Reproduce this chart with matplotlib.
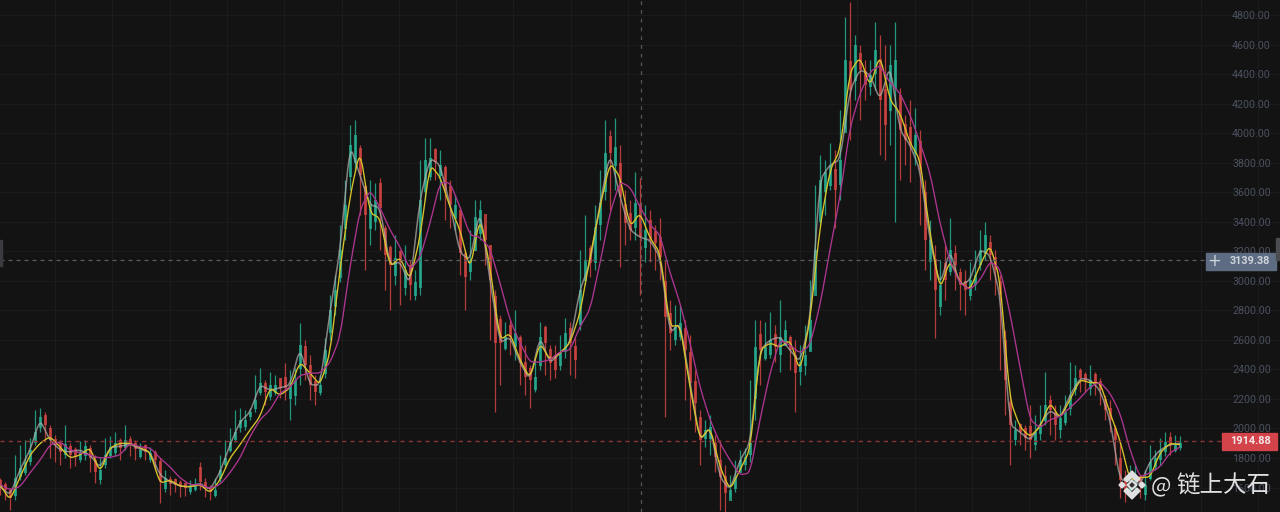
# -*- coding: utf-8 -*-
import numpy as np
import matplotlib
matplotlib.use('Agg')
import matplotlib.pyplot as plt
from matplotlib.patches import Rectangle, Polygon, PathPatch
from matplotlib.path import Path

# one candle every 5 px
opens = [
    1650, 1625, 1585, 1540, 1670, 1700, 1770, 1900, 2000, 2090,
    2000, 1930, 1905, 1820, 1880, 1860, 1785, 1815, 1870, 1790,
    1650, 1750, 1815, 1835, 1920, 1865, 1930, 1900, 1810, 1885,
    1790, 1840, 1780, 1590, 1660, 1655, 1640, 1630, 1570, 1585,
    1740, 1640, 1600, 1545, 1660, 1750, 1850, 1925, 2000, 2010,
    2075, 2130, 2240, 2310, 2210, 2240, 2340, 2350, 2200, 2220,
    2400, 2560, 2430, 2320, 2240, 2370, 2650, 2820, 3020, 3350,
    3700, 3800, 3900, 3640, 3350, 3400, 3660, 3360, 3230, 3030,
    3200, 2950, 3110, 2900, 2950, 3600, 3700, 3890, 3710, 3770,
    3640, 3420, 3480, 3190, 3060, 3200, 3320, 3450, 3240, 2900,
    2740, 2540, 2700, 2550, 2620, 2450, 2410, 2260, 2420, 2690,
    2540, 2500, 2420, 2520, 2680, 2560, 2700, 3000, 3220, 3120,
    3380, 3600, 3980, 3780, 3800, 3520, 3460, 3360, 3520, 3220,
    3410, 3340, 3300, 3000, 2780, 2600, 2620, 2680, 2520, 2320,
    2080, 1930, 1930, 1900, 1790, 1680, 1510, 1590, 1700, 1750,
    1820, 2200, 2640, 2470, 2500, 2640, 2500, 2560, 2620, 2500,
    2380, 2420, 2520, 2900, 3400, 3600, 3640, 3760, 3650, 4000,
    4490, 4350, 4540, 4420, 4310, 4400, 4500, 4300, 4150, 4300,
    4260, 4060, 4040, 3860, 3950, 3600, 3130, 3150, 2820, 3120,
    3060, 3190, 3060, 3000, 2900, 2970, 3110, 3180, 3260, 3160,
    3000, 2600, 2180, 1920, 2030, 2000, 2020, 1890, 1960, 2050,
    2190, 2110, 1990, 2040, 2130, 2260, 2395, 2370, 2270, 2370,
    2320, 2200, 2140, 2000, 1800, 1660, 1580, 1620, 1680, 1550,
    1660, 1740, 1790, 1840, 1940, 1850, 1870,
]
closes = [
    1620, 1585, 1530, 1665, 1735, 1775, 1855, 1975, 2080, 2025,
    1920, 1890, 1840, 1895, 1820, 1805, 1840, 1880, 1800, 1705,
    1720, 1820, 1875, 1900, 1870, 1920, 1890, 1860, 1855, 1840,
    1835, 1785, 1640, 1665, 1625, 1620, 1605, 1595, 1605, 1620,
    1640, 1595, 1570, 1585, 1720, 1800, 1910, 1975, 2060, 2060,
    2110, 2195, 2310, 2245, 2295, 2295, 2275, 2275, 2295, 2330,
    2565, 2430, 2295, 2245, 2295, 2530, 2805, 2940, 3210, 3515,
    3920, 3990, 3715, 3445, 3515, 3550, 3495, 3175, 3105, 3155,
    3130, 3075, 2970, 2990, 3550, 3820, 3830, 3805, 3785, 3615,
    3515, 3515, 3190, 3025, 3140, 3430, 3480, 3275, 3005, 2580,
    2580, 2620, 2620, 2645, 2445, 2350, 2330, 2350, 2620, 2580,
    2445, 2395, 2510, 2645, 2580, 2465, 2940, 3140, 3120, 3365,
    3525, 3865, 3865, 3905, 3570, 3390, 3345, 3525, 3295, 3345,
    3275, 3255, 3160, 2755, 2645, 2690, 2715, 2530, 2310, 2175,
    1920, 1990, 2010, 1805, 1670, 1565, 1585, 1670, 1785, 1805,
    1900, 2550, 2530, 2550, 2600, 2550, 2620, 2665, 2530, 2375,
    2450, 2500, 2735, 3210, 3685, 3735, 3785, 3615, 3820, 4495,
    4290, 4595, 4430, 4325, 4395, 4565, 4225, 4055, 4460, 4495,
    4020, 3955, 3920, 3990, 3750, 3275, 3275, 2940, 2970, 3005,
    3210, 3105, 2970, 2940, 3005, 3040, 3210, 3310, 3175, 3075,
    2905, 2330, 2025, 1990, 1975, 1935, 1920, 1975, 2025, 2160,
    2125, 2025, 2070, 2110, 2225, 2340, 2340, 2315, 2330, 2315,
    2260, 2125, 2060, 1920, 1650, 1585, 1650, 1685, 1620, 1620,
    1775, 1800, 1855, 1910, 1890, 1890, 1900,
]
highs = [
    1665, 1640, 1595, 1820, 1890, 1920, 1935, 2125, 2140, 2110,
    2025, 1955, 1920, 2025, 1900, 1875, 1915, 1920, 1890, 1820,
    1800, 1935, 1950, 1975, 1935, 2025, 1950, 1920, 1900, 1895,
    1875, 1855, 1800, 1720, 1680, 1665, 1650, 1640, 1650, 1665,
    1775, 1665, 1620, 1665, 1820, 1920, 2005, 2125, 2140, 2125,
    2140, 2360, 2410, 2330, 2385, 2360, 2340, 2445, 2395, 2410,
    2715, 2600, 2500, 2360, 2360, 2615, 2905, 3040, 3380, 3685,
    4055, 4090, 3920, 3650, 3685, 3665, 3695, 3380, 3245, 3310,
    3210, 3245, 3140, 3075, 3820, 3965, 3965, 3900, 3885, 3785,
    3685, 3580, 3500, 3210, 3345, 3550, 3550, 3380, 3245, 2940,
    2770, 2720, 2735, 2805, 2635, 2565, 2430, 2465, 2720, 2700,
    2565, 2565, 2635, 2750, 2720, 2615, 3210, 3445, 3245, 3515,
    3750, 4090, 4020, 4105, 3920, 3615, 3550, 3735, 3695, 3515,
    3480, 3380, 3425, 3140, 2870, 2835, 2835, 2735, 2635, 2395,
    2125, 2060, 2090, 1955, 1920, 1755, 1685, 1785, 1855, 1870,
    2330, 2735, 2735, 2720, 2790, 2700, 2870, 2735, 2635, 2600,
    2565, 2700, 3005, 3650, 3850, 3820, 3935, 3885, 4155, 4785,
    4890, 4665, 4595, 4495, 4495, 4755, 4665, 4595, 4595, 4755,
    4305, 4125, 4225, 4170, 4020, 3685, 3410, 3245, 3140, 3245,
    3425, 3245, 3085, 3075, 3130, 3210, 3345, 3400, 3310, 3210,
    3040, 2665, 2225, 2060, 2035, 2025, 2160, 2090, 2160, 2385,
    2225, 2160, 2160, 2225, 2450, 2430, 2410, 2385, 2430, 2385,
    2340, 2225, 2195, 2025, 1920, 1720, 1755, 1755, 1685, 1720,
    1890, 1855, 1935, 1975, 1975, 1955, 1950,
]
lows = [
    1550, 1515, 1450, 1515, 1650, 1685, 1755, 1890, 1975, 1920,
    1800, 1775, 1755, 1800, 1735, 1745, 1775, 1785, 1705, 1630,
    1625, 1735, 1800, 1815, 1785, 1855, 1815, 1785, 1800, 1785,
    1775, 1720, 1495, 1570, 1550, 1570, 1535, 1545, 1555, 1575,
    1585, 1535, 1515, 1535, 1640, 1735, 1840, 1910, 1975, 1990,
    2060, 2110, 2225, 2160, 2195, 2225, 2205, 2195, 2060, 2160,
    2295, 2330, 2195, 2160, 2225, 2340, 2600, 2770, 2990, 3275,
    3615, 3750, 3445, 3075, 3245, 3345, 3210, 2940, 2805, 2970,
    2835, 2905, 2870, 2870, 2905, 3550, 3685, 3685, 3550, 3410,
    3360, 3345, 3040, 2805, 3005, 3210, 3275, 3105, 2600, 2110,
    2295, 2530, 2500, 2465, 2295, 2225, 2140, 2245, 2395, 2360,
    2330, 2340, 2395, 2480, 2360, 2340, 2665, 2970, 3025, 3075,
    3275, 3550, 3480, 3615, 3095, 3245, 3275, 3275, 2905, 3130,
    3130, 3075, 3005, 2080, 2530, 2565, 2600, 2195, 2060, 1975,
    1755, 1875, 1820, 1705, 1450, 1435, 1535, 1570, 1720, 1720,
    1775, 2060, 2295, 2465, 2480, 2450, 2385, 2565, 2395, 2110,
    2295, 2360, 2530, 2940, 3380, 3445, 3615, 3360, 3550, 4020,
    3955, 4225, 4090, 4225, 4260, 4290, 3850, 3820, 3920, 3400,
    3685, 3785, 3670, 3785, 3380, 3075, 3005, 2615, 2770, 2870,
    3040, 2940, 2805, 2770, 2870, 2940, 3075, 3140, 3005, 2905,
    2395, 2090, 1755, 1890, 1890, 1855, 1800, 1855, 1920, 2025,
    1955, 1920, 1935, 2025, 2090, 2225, 2245, 2245, 2225, 2225,
    2160, 2060, 1975, 1755, 1530, 1500, 1570, 1585, 1530, 1515,
    1650, 1720, 1755, 1815, 1820, 1840, 1855,
]

# moving averages, read at every second candle
ma_white = [
    1605, 1550, 1720, 1855, 2060, 1920, 1855, 1840, 1855, 1820,
    1735, 1870, 1880, 1895, 1860, 1840, 1685, 1640, 1610, 1605,
    1630, 1585, 1705, 1890, 2045, 2110, 2295, 2260, 2275, 2295,
    2545, 2295, 2295, 2790, 3210, 3920, 3715, 3515, 3495, 3105,
    3130, 2970, 3550, 3830, 3785, 3515, 3190, 3140, 3480, 3005,
    2580, 2620, 2445, 2330, 2620, 2445, 2510, 2580, 2940, 3120,
    3525, 3865, 3570, 3345, 3295, 3275, 3160, 2645, 2715, 2310,
    1920, 2010, 1670, 1585, 1785, 1900, 2530, 2600, 2620, 2530,
    2450, 2735, 3685, 3785, 3820, 4290, 4430, 4395, 4225, 4460,
    4020, 3920, 3750, 3275, 2970, 3210, 2970, 3005, 3210, 3175,
    2905, 2025, 1975, 1920, 2025, 2125, 2070, 2225, 2340, 2330,
    2260, 2060, 1650, 1650, 1620, 1775, 1855, 1890, 1900,
]
ma_yellow = [
    1620, 1515, 1670, 1820, 1900, 1945, 1875, 1800, 1820, 1870,
    1705, 1870, 1900, 1900, 1870, 1840, 1630, 1650, 1610, 1605,
    1620, 1565, 1650, 1800, 1890, 1990, 2080, 2275, 2225, 2275,
    2450, 2375, 2295, 2510, 3075, 3570, 3885, 3460, 3425, 3095,
    3160, 3005, 3295, 3785, 3705, 3500, 3345, 3075, 3430, 3095,
    2600, 2645, 2465, 2340, 2580, 2465, 2510, 2580, 2780, 3160,
    3500, 3800, 3705, 3365, 3460, 3290, 3190, 2690, 2700, 2280,
    1920, 2010, 1740, 1585, 1720, 1855, 2530, 2580, 2550, 2600,
    2385, 2735, 3365, 3750, 3885, 4415, 4515, 4315, 4530, 4225,
    4135, 3935, 3820, 3325, 2940, 3140, 2990, 2940, 3105, 3245,
    3005, 2195, 2010, 1945, 2010, 2175, 2070, 2195, 2330, 2310,
    2310, 2105, 1920, 1650, 1670, 1670, 1835, 1900, 1890,
]
ma_magenta = [
    1620, 1585, 1605, 1700, 1785, 1890, 1910, 1855, 1835, 1820,
    1800, 1805, 1820, 1900, 1875, 1870, 1800, 1740, 1665, 1620,
    1620, 1595, 1620, 1700, 1800, 1945, 2060, 2125, 2240, 2280,
    2360, 2375, 2375, 2445, 2620, 3095, 3480, 3615, 3495, 3345,
    3230, 3075, 3155, 3390, 3665, 3665, 3500, 3310, 3295, 3220,
    2985, 2735, 2580, 2450, 2450, 2465, 2520, 2530, 2690, 2805,
    3120, 3460, 3670, 3635, 3500, 3380, 3310, 3055, 2850, 2580,
    2280, 2060, 1900, 1785, 1685, 1700, 2060, 2375, 2600, 2565,
    2510, 2565, 2835, 3210, 3570, 4035, 4270, 4415, 4460, 4340,
    4270, 4125, 3935, 3730, 3390, 3130, 2985, 2940, 3005, 3130,
    3085, 2780, 2415, 2060, 2005, 2060, 2080, 2140, 2205, 2280,
    2315, 2240, 2105, 1855, 1670, 1700, 1740, 1835, 1875,
]

y_ticks = [1600, 1800, 2000, 2200, 2400, 2600, 2800, 3000, 3200, 3400,
           3600, 3800, 4000, 4200, 4400, 4600, 4800]
last_price = 1914.88
cross_price = 3139.38

BG = '#131313'
UP = '#27ad90'
DOWN = '#cf4442'


def smooth_line(ax, xs, ys, **kw):
    # straight runs with a small rounded corner at each read point
    pts = np.column_stack([xs, ys])
    verts = [pts[0]]
    codes = [Path.MOVETO]
    for k in range(1, len(pts) - 1):
        verts.append(pts[k] - 0.3 * (pts[k] - pts[k - 1]))
        codes.append(Path.LINETO)
        verts += [pts[k], pts[k] + 0.3 * (pts[k + 1] - pts[k])]
        codes += [Path.CURVE3, Path.CURVE3]
    verts.append(pts[-1])
    codes.append(Path.LINETO)
    ax.add_patch(PathPatch(Path(verts, codes), fill=False, **kw))


fig = plt.figure(figsize=(12.8, 5.12), dpi=100, facecolor=BG)
ax = fig.add_axes([0, 0, 1, 1], facecolor=BG)
ax.set_xlim(0, 256)
ax.set_ylim(1434.5, 4901.6)

x = np.arange(len(closes))

# grid
ax.set_yticks(y_ticks)
ax.set_yticklabels([f'{v:.2f}' for v in y_ticks], family='Roboto')
ax.set_xticks(np.arange(11, 256, 11.46))
ax.set_xticklabels([])
ax.grid(True, color='#1b1b1e', lw=0.8)
ax.set_axisbelow(True)
ax.tick_params(axis='y', left=False, right=False, labelleft=False, labelright=True,
               pad=-38, labelsize=7.7, labelcolor='#4b5160')
ax.tick_params(axis='x', bottom=False, top=False, labelbottom=False)
for spine in ax.spines.values():
    spine.set_visible(False)

# candles
for i in range(len(closes)):
    color = UP if closes[i] >= opens[i] else DOWN
    ax.plot([x[i], x[i]], [lows[i], highs[i]], color=color, lw=0.9, alpha=0.85,
            solid_capstyle='butt', zorder=2)
    ax.bar(x[i], abs(closes[i] - opens[i]), bottom=min(opens[i], closes[i]), width=0.6,
           color=color, alpha=0.8, zorder=2)

# moving averages
ma_x = x[::2]
smooth_line(ax, ma_x, ma_white, color='#b5b2b0', lw=1.1, alpha=0.7, zorder=3)
smooth_line(ax, ma_x, ma_yellow, color='#d8c52c', lw=0.95, zorder=4)
smooth_line(ax, ma_x, ma_magenta, color='#ad3690', lw=0.95, zorder=4)

# price lines and crosshair
ax.axhline(last_price, xmax=1222 / 1280, color='#8a3436', lw=1.0, dashes=(3, 3), zorder=5)
ax.axhline(cross_price, xmax=1205 / 1280, color='#5a5c60', lw=0.9, dashes=(3.2, 3.2), zorder=5)
ax.axvline(641 / 5, color='#55575c', lw=0.9, dashes=(3, 4), zorder=5)

# overlay in pixels for the labels and the watermark
ov = fig.add_axes([0, 0, 1, 1])
ov.set_xlim(0, 1280)
ov.set_ylim(512, 0)
ov.axis('off')

ov.add_patch(Rectangle((1206, 253), 17, 17, color='#5d6c82', zorder=6))
ov.add_patch(Rectangle((1224, 253), 52, 17, color='#5d6c82', zorder=6))
ov.text(1214.5, 261.5, '+', color='#cdd3dc', fontsize=12, ha='center', va='center', zorder=7)
ov.text(1250, 261.5, f'{cross_price:.2f}', color='#cfd4dc', fontsize=7.8, fontweight='bold',
        family='Roboto', ha='center', va='center', zorder=7)
ov.add_patch(Rectangle((1222, 433), 55, 17, color='#d2434a', zorder=6))
ov.text(1250, 441.5, f'{last_price:.2f}', color='#f4e8e8', fontsize=7.8, fontweight='bold',
        family='Roboto', ha='center', va='center', zorder=7)
ov.add_patch(Rectangle((0, 240), 2, 26, color='#3a3b3e', zorder=6))
ov.add_patch(Rectangle((1276, 238), 4, 22, color='#4a4c50', zorder=6))

# watermark
wm = '#e0e0e0'
ov.add_patch(Polygon([(1124, 479), (1132, 471), (1140, 479), (1137, 482), (1132, 477), (1127, 482)],
                     color=wm, zorder=8))
ov.add_patch(Polygon([(1124, 491), (1132, 499), (1140, 491), (1137, 488), (1132, 493), (1127, 488)],
                     color=wm, zorder=8))
ov.add_patch(Polygon([(1132, 480), (1137, 485), (1132, 490), (1127, 485)], color=wm, zorder=8))
ov.add_patch(Polygon([(1132, 483), (1134, 485), (1132, 487), (1130, 485)], color='#333333', zorder=9))
ov.add_patch(Polygon([(1119, 485), (1122, 482), (1125, 485), (1122, 488)], color=wm, zorder=8))
ov.add_patch(Polygon([(1139, 485), (1142, 482), (1145, 485), (1142, 488)], color=wm, zorder=8))
ov.text(1151, 486, '@', color=wm, fontsize=15.5, ha='left', va='center', zorder=8,
        family=['Noto Sans CJK SC', 'DejaVu Sans'])
ov.text(1176, 486, '链上大石', color=wm, fontsize=16.9, ha='left', va='center', zorder=8,
        family=['Noto Sans CJK SC', 'DejaVu Sans'])

fig.savefig('out.png', dpi=100, facecolor=BG)
